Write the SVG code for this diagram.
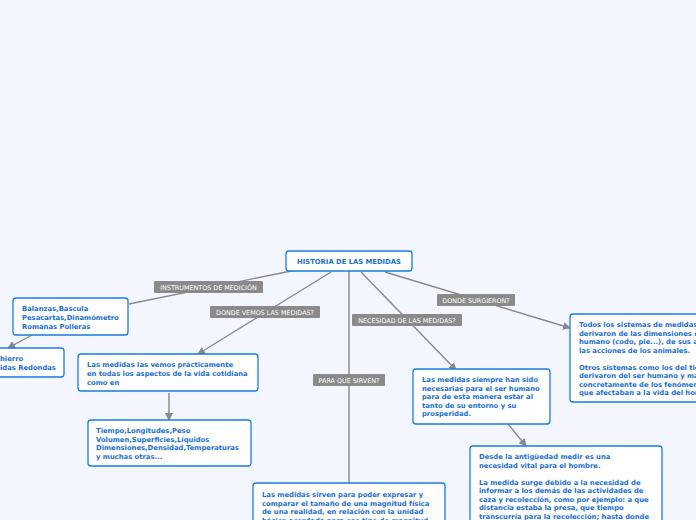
<svg xmlns="http://www.w3.org/2000/svg" width="696" height="520" viewBox="0 0 696 520">
<defs>
<style>
.n{fill:#fff;stroke:#1a7be0;stroke-width:1.3}
.t{font-family:"DejaVu Sans",Verdana,sans-serif;font-weight:bold;font-size:6.8px;fill:#1a6fd0}
.l{fill:#8a8a8a}
.lt{font-family:"DejaVu Sans",Verdana,sans-serif;font-size:6.4px;fill:#fff}
.c{stroke:#888;stroke-width:1.4;fill:none}
</style>
<marker id="a" markerWidth="8" markerHeight="8" refX="7" refY="4" orient="auto" markerUnits="userSpaceOnUse"><path d="M0,0L8,4L0,8z" fill="#888"/></marker>
</defs>
<rect width="696" height="520" fill="#f3f6fe"/>
<g id="connectors">
<line class="c" x1="296" y1="270" x2="129" y2="304"/>
<line class="c" x1="32" y1="335" x2="8" y2="348" marker-end="url(#a)"/>
<line class="c" x1="331" y1="272" x2="198" y2="354" marker-end="url(#a)"/>
<line class="c" x1="349" y1="271" x2="349" y2="483"/>
<line class="c" x1="361" y1="272" x2="456" y2="370" marker-end="url(#a)"/>
<line class="c" x1="385" y1="272" x2="570" y2="328" marker-end="url(#a)"/>
<line class="c" x1="169" y1="393" x2="169" y2="420" marker-end="url(#a)"/>
<line class="c" x1="508" y1="424" x2="526" y2="446" marker-end="url(#a)"/>
<g><rect class="l" x="154" y="281" width="109" height="12" rx="1"/><text class="lt" x="208.5" y="289.5" text-anchor="middle">INSTRUMENTOS DE MEDICIÓN</text></g>
<g><rect class="l" x="210" y="306" width="110" height="12" rx="1"/><text class="lt" x="265" y="314.5" text-anchor="middle">DONDE VEMOS LAS MEDIDAS?</text></g>
<g><rect class="l" x="313" y="374" width="72" height="12" rx="1"/><text class="lt" x="349" y="382.5" text-anchor="middle">PARA QUE SIRVEN?</text></g>
<g><rect class="l" x="352" y="314" width="110" height="12" rx="1"/><text class="lt" x="407" y="322.5" text-anchor="middle">NECESIDAD DE LAS MEDIDAS?</text></g>
<g><rect class="l" x="437" y="294" width="78" height="12" rx="1"/><text class="lt" x="476" y="302.5" text-anchor="middle">DONDE SURGIERON?</text></g>
</g>
<g id="root"><rect class="n" x="286" y="251" width="126" height="20" rx="3"/><text class="t" x="349" y="264" text-anchor="middle">HISTORIA DE LAS MEDIDAS</text></g>
<g id="balanzas"><rect class="n" x="13" y="298" width="115" height="37" rx="3"/><text class="t"><tspan x="22" y="311">Balanzas,Bascula</tspan><tspan x="22" y="320">Pesacartas,Dinamómetro</tspan><tspan x="22" y="329">Romanas Polleras</tspan></text></g>
<g id="hierro"><rect class="n" x="-10" y="348" width="74" height="29" rx="3"/><text class="t"><tspan x="0" y="361">hierro</tspan><tspan x="0" y="370">idas Redondas</tspan></text></g>
<g id="vemos"><rect class="n" x="78" y="354" width="180" height="37" rx="3"/><text class="t"><tspan x="87" y="367">Las medidas las vemos prácticamente</tspan><tspan x="87" y="376">en todas los aspectos de la vida cotidiana</tspan><tspan x="87" y="385">como en</tspan></text></g>
<g id="tiempo"><rect class="n" x="88" y="420" width="163" height="46" rx="3"/><text class="t"><tspan x="96" y="433">Tiempo,Longitudes,Peso</tspan><tspan x="96" y="441.5">Volumen,Superficies,Líquidos</tspan><tspan x="96" y="450">Dimensiones,Densidad,Temperaturas</tspan><tspan x="96" y="458.5">y muchas otras...</tspan></text></g>
<g id="sirven"><rect class="n" x="253" y="483" width="192" height="60" rx="3"/><text class="t"><tspan x="262" y="497">Las medidas sirven para poder expresar y</tspan><tspan x="262" y="505.5">comparar el tamaño de una magnitud física</tspan><tspan x="262" y="514">de una realidad, en relación con la unidad</tspan><tspan x="262" y="522.5">básica acordada para ese tipo de magnitud</tspan></text></g>
<g id="siempre"><rect class="n" x="413" y="369" width="137" height="55" rx="3"/><text class="t"><tspan x="422" y="382">Las medidas siempre han sido</tspan><tspan x="422" y="390.5">necesarias para el ser humano</tspan><tspan x="422" y="399">para de esta manera estar al</tspan><tspan x="422" y="407.5">tanto de su entorno y su</tspan><tspan x="422" y="416">prosperidad.</tspan></text></g>
<g id="todos"><rect class="n" x="570" y="314" width="140" height="88" rx="3"/><text class="t"><tspan x="579" y="327">Todos los sistemas de medidas</tspan><tspan x="579" y="335.5">derivaron de las dimensiones del ser</tspan><tspan x="579" y="344">humano (codo, pie...), de sus actividades o</tspan><tspan x="579" y="352.5">las acciones de los animales.</tspan><tspan x="579" y="369.5">Otros sistemas como los del tiempo no</tspan><tspan x="579" y="378">derivaron del ser humano y más</tspan><tspan x="579" y="386.5">concretamente de los fenómenos</tspan><tspan x="579" y="395">que afectaban a la vida del hombre.</tspan></text></g>
<g id="desde"><rect class="n" x="470" y="446" width="192" height="90" rx="3"/><text class="t"><tspan x="479" y="459">Desde la antigüedad medir es una</tspan><tspan x="479" y="467.5">necesidad vital para el hombre.</tspan><tspan x="479" y="484.5">La medida surge debido a la necesidad de</tspan><tspan x="479" y="493">informar a los demás de las actividades de</tspan><tspan x="479" y="501.5">caza y recolección, como por ejemplo: a que</tspan><tspan x="479" y="510">distancia estaba la presa, que tiempo</tspan><tspan x="479" y="518.5">transcurría para la recolección; hasta donde</tspan></text></g>
</svg>
